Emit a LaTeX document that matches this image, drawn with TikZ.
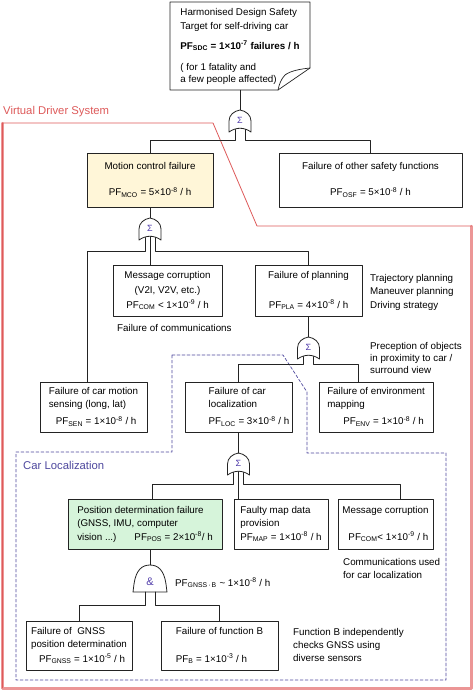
\documentclass[tikz,border=0pt]{standalone}
\usepackage{fontspec}
\setmainfont{Liberation Sans}
\usetikzlibrary{calc}
\definecolor{vdsred}{RGB}{222,90,90}
\definecolor{vdspink}{RGB}{236,150,150}
\definecolor{locblue}{RGB}{78,72,158}
\definecolor{sigmablue}{RGB}{80,60,170}
\definecolor{mcofill}{RGB}{255,246,216}
\definecolor{posfill}{RGB}{214,244,218}
\definecolor{edge}{RGB}{35,35,35}
\newcommand\fsz{\fontsize{9.8}{13}\selectfont}
\newcommand\PF[1]{PF\textsubscript{#1}}
\newcommand\tpow[1]{10\textsuperscript{#1}}
\tikzset{
  gate/.style={draw=edge,line width=0.8pt,fill=white},
  orgate/.pic={
    \path[gate] (-11,11)--(-11,0) .. controls (-11,-6) and (-6,-10) .. (0,-11) .. controls (6,-10) and (11,-6) .. (11,0)--(11,11) .. controls (4,6) and (-4,6) .. (-11,11)--cycle;
    \node[text=sigmablue,font=\fontsize{9}{9}\selectfont,inner sep=0pt] at (0,-1) {Σ};
    \coordinate (-top) at (0,-11); \coordinate (-l) at (-5,8.5); \coordinate (-m) at (0,7.5); \coordinate (-r) at (5,8.5);
  },
  andgate/.pic={
    \path[gate] (-17,13)--(-16,5) .. controls (-14,-9) and (-8,-14) .. (0,-14) .. controls (8,-14) and (14,-9) .. (16,5)--(17,13)--cycle;
    \node[text=sigmablue,font=\fontsize{11}{11}\selectfont,inner sep=0pt] at (0,3) {\&};
    \coordinate (-top) at (0,-14); \coordinate (-l) at (-5,13); \coordinate (-r) at (5,13);
  }
}
\begin{document}
\begin{tikzpicture}[x=1pt,y=-1pt,line cap=round,line join=round,
  fbox/.style={draw=edge,line width=0.7pt,fill=white,inner sep=0pt,align=left,font=\fsz},
  wire/.style={draw=edge,line width=0.7pt},
  sidenote/.style={anchor=west,align=left,inner sep=0pt,font=\fsz},
  area/.style={anchor=west,inner sep=0pt,font=\fontsize{11.3}{13}\selectfont}]
\fill[white] (0,0) rectangle (474,691);
\useasboundingbox (0,0) rectangle (474,691);
\draw[vdspink,line width=2.2pt] (2.5,123)--(2.5,688.5)--(471.5,688.5)--(471.5,226);
\draw[vdsred,line width=0.8pt] (2.5,688)--(2.5,123)--(213,123)--(257,226)--(471.5,226);
\node[area,text=vdsred] (vdslabel) at (3,112) {Virtual Driver System};
\draw[locblue,line width=0.7pt,dash pattern=on 3pt off 2pt] (172,355)--(283,355)--(307,392)--(307,453)--(446,453)--(446,680)--(16,680)--(16,452)--(172,452)--cycle;
\node[area,text=locblue] (loclabel) at (23,465) {Car Localization};

\draw[gate,line width=0.7pt] (170,2)--(310,2)--(310,68)--(278,90)--(170,90)--cycle;
\draw[edge,line width=0.7pt] (310,68) .. controls (300,69) and (290,71) .. (285,75) .. controls (281,79) and (279,85) .. (278,90);
\node[align=left,inner sep=0pt,font=\fsz,minimum width=140,minimum height=88] (target) at (240,46) {Harmonised Design Safety\\[1pt]Target for self-driving car\\[7pt]\textbf{\PF{SDC} = 1×\tpow{-7} failures / h}\\[8pt]( for 1 fatality and\\[-1pt]a few people affected)};

\pic (g1) at (240,121) {orgate};
\pic (g2) at (150,229) {orgate};
\pic (g3) at (308.5,348) {orgate};
\pic (g4) at (238.5,464) {orgate};
\pic (g5) at (150,579) {andgate};

\node[fbox,fill=mcofill,minimum width=126,minimum height=54,align=center] (mco) at (150,180) {Motion control failure\\[13pt]\PF{MCO} = 5×\tpow{-8} / h};
\node[fbox,minimum width=183,minimum height=54,align=center] (osf) at (370.5,180) {Failure of other safety functions\\[13pt]\PF{OSF} = 5×\tpow{-8} / h};
\node[fbox,minimum width=109,minimum height=51,align=center] (com) at (167.5,290.5) {Message corruption\\[2pt](V2I, V2V, etc.)\\[2pt]\PF{COM} < 1×\tpow{-9} / h};
\node[fbox,minimum width=107,minimum height=51,align=center] (pla) at (308.5,290.5) {Failure of planning\\[17pt]\PF{PLA} = 4×\tpow{-8} / h};
\node[fbox,minimum width=107,minimum height=50] (sen) at (93.5,407) {Failure of car motion\\sensing (long, lat)\\[4pt]\hspace*{7pt}\PF{SEN} = 1×\tpow{-8} / h};
\node[fbox,minimum width=107,minimum height=50] (loc) at (238.5,407) {\hspace*{21pt}Failure of car\\\hspace*{21pt}localization\\[4pt]\hspace*{21pt}\PF{LOC} = 3×\tpow{-8} / h};
\node[fbox,minimum width=114,minimum height=50] (env) at (376,407) {Failure of environment\\mapping\\[4pt]\hspace*{16pt}\PF{ENV} = 1×\tpow{-8} / h};
\node[fbox,fill=posfill,minimum width=154,minimum height=50] (pos) at (145,524) {Position determination failure\\(GNSS, IMU, computer\\[1pt]vision ...)\hspace*{18pt}\PF{POS} = 2×\tpow{-8}/ h};
\node[fbox,minimum width=94,minimum height=50] (map) at (281,524) {Faulty map data\\provision\\[1pt]\PF{MAP} = 1×\tpow{-8} / h};
\node[fbox,minimum width=95,minimum height=50] (com2) at (385.5,524) {Message corruption\\[14pt]\hspace*{6pt}\PF{COM}< 1×\tpow{-9} / h};
\node[fbox,minimum width=106,minimum height=49] (gnss) at (79,645.5) {Failure of\ \ GNSS\\position determination\\[2pt]\hspace*{8pt}\PF{GNSS} = 1×\tpow{-5} / h};
\node[fbox,minimum width=117,minimum height=49] (fb) at (219.5,645.5) {Failure of function B\\[15pt]\PF{B} = 1×\tpow{-3} / h};

\node[sidenote] (plantxt) at (370,292) {Trajectory planning\\[0.5pt]Maneuver planning\\[0.5pt]Driving strategy};
\node[sidenote] (perctxt) at (370,358) {Preception of objects\\[-1pt]in proximity to car /\\[-1pt]surround view};
\node[sidenote] (comtxt) at (117,328) {Failure of communications};
\node[sidenote] (loccomtxt) at (343,568.5) {Communications used\\for car localization};
\node[sidenote] (fbtxt) at (293,645) {Function B independently\\checks GNSS using\\diverse sensors};
\node[sidenote] (g5txt) at (175,583) {\PF{GNSS\,·\,B} \textasciitilde{} 1×\tpow{-8} / h};

\draw[wire] (target.south)--(g1-top);
\draw[wire] (g1-l)--++(0,10.5)-|(mco.north);
\draw[wire] (g1-r)--++(0,10.5)-|(osf.north);
\draw[wire] (mco.south)--(g2-top);
\draw[wire] (g2-l)--++(0,14)-|([xshift=-6.5pt]sen.north);
\draw[wire] (g2-m)--(g2-m |- com.north);
\draw[wire] (g2-r)--++(0,14)-|(pla.north);
\draw[wire] (pla.south)--(g3-top);
\draw[wire] (g3-l)--++(0,8)-|(loc.north);
\draw[wire] (g3-r)--++(0,8)-|([xshift=-18pt]env.north);
\draw[wire] (loc.south)--(g4-top);
\draw[wire] (g4-l)--++(0,12)-|([xshift=7pt]pos.north);
\draw[wire] (g4-m)--(g4-m |- map.north);
\draw[wire] (g4-r)--++(0,12)-|([xshift=14.5pt]com2.north);
\draw[wire] (pos.south -| g5-top)--(g5-top);
\draw[wire] (g5-l)--++(0,13)-|(gnss.north);
\draw[wire] (g5-r)--++(0,13)-|(fb.north);
\end{tikzpicture}
\end{document}
